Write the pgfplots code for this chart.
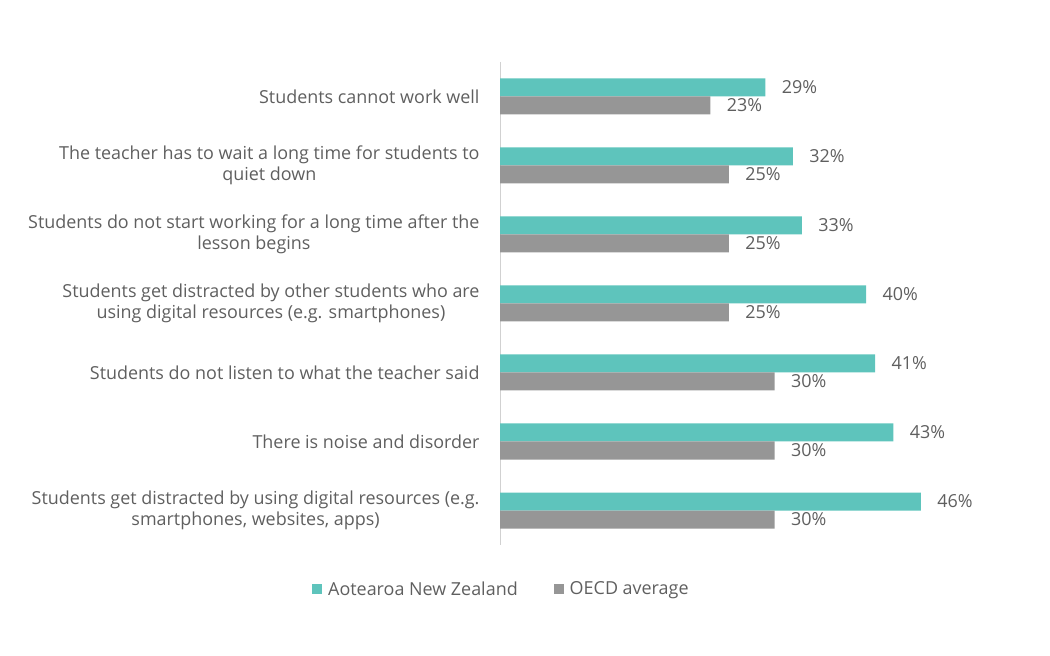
\documentclass[border=0pt]{standalone}
\usepackage{fontspec}
\setmainfont{Open Sans}
\usepackage{pgfplots}
\pgfplotsset{compat=1.18}

\definecolor{nzteal}{RGB}{94,196,188}
\definecolor{oecdgray}{RGB}{150,150,150}
\definecolor{labelgray}{RGB}{95,95,95}

\begin{document}
\begin{tikzpicture}[x=1bp,y=1bp]
\useasboundingbox (0,0) rectangle (1050,656);
\begin{axis}[
    at={(500bp,111bp)}, anchor=south west,
    scale only axis,
    width=457.5bp, height=483bp,
    xbar, bar width=18bp,
    xmin=0, xmax=50,
    ymin=-0.5, ymax=6.5,
    y dir=reverse,
    hide x axis,
    axis y line*=left,
    y axis line style={draw=black!18, line width=0.8pt},
    ytick={0,...,6},
    major tick length=0pt,
    yticklabels={
        Students cannot work well,
        The teacher has to wait a long time for students to\\quiet down,
        Students do not start working for a long time after the\\lesson begins,
        Students get distracted by other students who are\\using digital resources (e.g. smartphones),
        Students do not listen to what the teacher said,
        There is noise and disorder,
        Students get distracted by using digital resources (e.g.\\smartphones{,} websites{,} apps)
    },
    yticklabel style={align=center, font=\fontsize{18}{21}\selectfont, text=labelgray, xshift=-17bp},
    /pgf/number format/assume math mode=true,
    nodes near coords={\pgfmathprintnumber{\pgfplotspointmeta}\%},
    nodes near coords style={font=\fontsize{18}{20}\selectfont, text=labelgray, anchor=west, xshift=13bp},
    point meta=x,
    legend style={at={(0.003,-0.067)}, anchor=north, draw=none, fill=none,
        legend columns=2, font=\fontsize{18}{20}\selectfont, text=labelgray,
        /tikz/every odd column/.append style={column sep=4bp},
        /tikz/every even column/.append style={column sep=34bp}},
    legend image code/.code={\fill[#1] (0bp,-5bp) rectangle (10bp,5bp);},
]
\addplot[fill=nzteal, draw=none, bar shift=9bp] coordinates {
    (29,0) (32,1) (33,2) (40,3) (41,4) (43,5) (46,6)
};
\addplot[fill=oecdgray, draw=none, bar shift=-9bp] coordinates {
    (23,0) (25,1) (25,2) (25,3) (30,4) (30,5) (30,6)
};
\legend{Aotearoa New Zealand, OECD average}
\end{axis}
\end{tikzpicture}
\end{document}
